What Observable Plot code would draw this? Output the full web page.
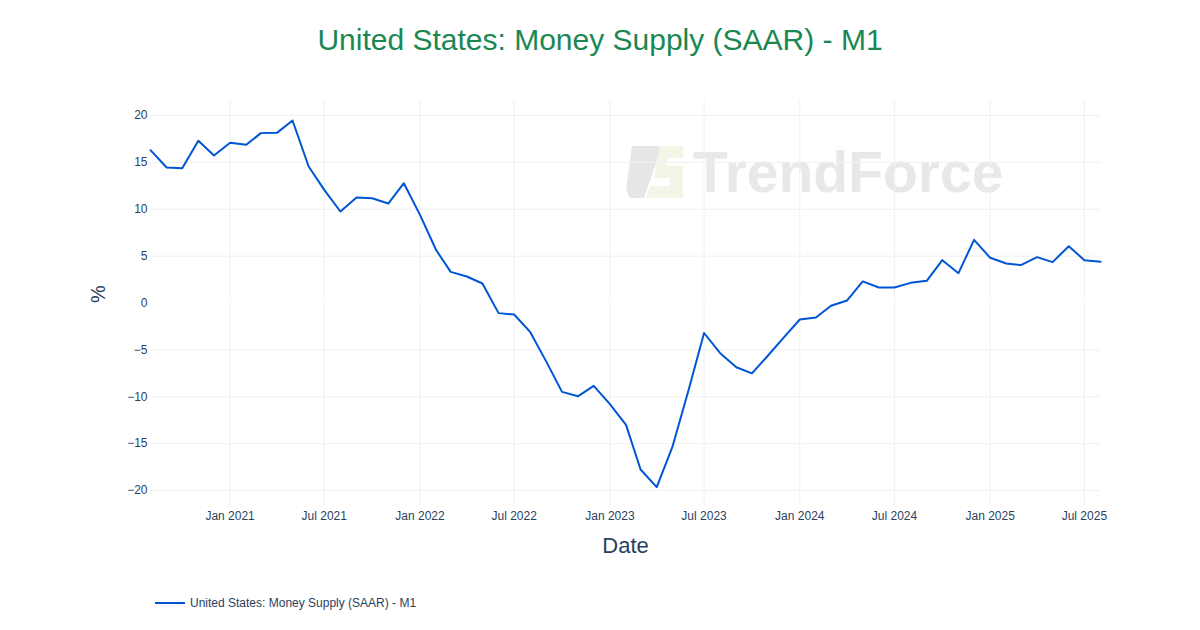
<!DOCTYPE html>
<html>
<head>
<meta charset="utf-8">
<script src="https://cdn.jsdelivr.net/npm/d3@7"></script>
<script src="https://cdn.jsdelivr.net/npm/@observablehq/plot@0.6"></script>
<style>
  html, body { margin: 0; padding: 0; background: #fff; }
  #wrap { position: relative; width: 1200px; height: 630px; overflow: hidden; font-family: "Liberation Sans", Arial, sans-serif; }
  #title { position: absolute; top: 22px; left: 0; width: 1200px; text-align: center; font-size: 30px; line-height: 36px; color: #1b8753; }
  #wm { position: absolute; left: 620px; top: 140px; width: 400px; height: 70px; }
  #chart { position: absolute; left: 0; top: 80px; }
  #chart svg { background: transparent; }
  #legend { position: absolute; left: 155px; top: 596px; font-size: 12px; color: #2a3f5f; display: flex; align-items: center; }
  #legend .sw { width: 30px; height: 2px; background: #0055d4; margin-right: 5px; }
</style>
</head>
<body>
<div id="wrap">
  <div id="wm">
    <svg width="400" height="70" viewBox="0 0 400 70">
      <polygon points="12,6 42,6 24,58 10,58 6,50" fill="#e6e6e6"/>
      <polygon points="40,6 63,6 63,18 48,18 46,26 63,26 63,58 26,58 30,46 50,46 50,38 34,38" fill="#f1f6e6"/>
      <text x="73" y="52" font-family="Liberation Sans, Arial, sans-serif" font-weight="bold" font-size="57" fill="#e8e8e8">TrendForce</text>
    </svg>
  </div>
  <div id="title">United States: Money Supply (SAAR) - M1</div>
  <div id="chart"></div>
  <div id="legend"><div class="sw"></div><span>United States: Money Supply (SAAR) - M1</span></div>
</div>
<script>
const months = [
  "2020-08","2020-09","2020-10","2020-11","2020-12",
  "2021-01","2021-02","2021-03","2021-04","2021-05","2021-06","2021-07","2021-08","2021-09","2021-10","2021-11","2021-12",
  "2022-01","2022-02","2022-03","2022-04","2022-05","2022-06","2022-07","2022-08","2022-09","2022-10","2022-11","2022-12",
  "2023-01","2023-02","2023-03","2023-04","2023-05","2023-06","2023-07","2023-08","2023-09","2023-10","2023-11","2023-12",
  "2024-01","2024-02","2024-03","2024-04","2024-05","2024-06","2024-07","2024-08","2024-09","2024-10","2024-11","2024-12",
  "2025-01","2025-02","2025-03","2025-04","2025-05","2025-06","2025-07","2025-08"
];
const m1Values = [
  16.3, 14.45, 14.38, 17.3, 15.73,
  17.09, 16.87, 18.12, 18.15, 19.47, 14.56, 12.07, 9.76, 11.25, 11.18, 10.61, 12.78,
  9.4, 5.65, 3.32, 2.83, 2.08, -1.08, -1.23, -3.11, -6.28, -9.48, -9.94, -8.84,
  -10.79, -13.0, -17.76, -19.64, -15.38, -9.33, -3.2, -5.35, -6.85, -7.5, -5.6, -3.7,
  -1.76, -1.55, -0.3, 0.27, 2.3, 1.65, 1.65, 2.15, 2.37, 4.57, 3.18, 6.74,
  4.82, 4.21, 4.04, 4.89, 4.36, 6.06, 4.57, 4.39
];
const xTickLabels = ["2021-01","2021-07","2022-01","2022-07","2023-01","2023-07","2024-01","2024-07","2025-01","2025-07"];
const yTicks = [-20, -15, -10, -5, 0, 5, 10, 15, 20];

const data = months.map((m, i) => ({date: new Date(m + "-01T00:00:00Z"), value: m1Values[i]}));
const xTicks = xTickLabels.map(m => new Date(m + "-01T00:00:00Z"));
const fmtY = d => d < 0 ? "\u2212" + Math.abs(d) : String(d);
const fmtX = d3.utcFormat("%b %Y");
const tickColor = "#2a3f5f";

const chart = Plot.plot({
  width: 1200,
  height: 490,
  marginLeft: 150,
  marginRight: 100,
  marginTop: 20,
  marginBottom: 65,
  style: {fontFamily: "Liberation Sans, Arial, sans-serif", background: "transparent", color: tickColor},
  x: {type: "utc", domain: [data[0].date, data[data.length - 1].date]},
  y: {domain: [-21.6, 21.6]},
  marks: [
    Plot.gridX(xTicks, {stroke: "#f0f0f0", strokeOpacity: 1, strokeWidth: 1}),
    Plot.gridY(yTicks, {stroke: "#f0f0f0", strokeOpacity: 1, strokeWidth: 1}),
    Plot.ruleY([0], {stroke: "#ffffff", strokeWidth: 2}),
    Plot.axisX(xTicks, {tickSize: 0, tickPadding: 6, tickFormat: fmtX, label: null, fontSize: 12, fill: tickColor}),
    Plot.axisY(yTicks, {tickSize: 0, tickPadding: 3, tickFormat: fmtY, label: null, fontSize: 12, fill: tickColor}),
    Plot.text(["Date"], {frameAnchor: "bottom", dy: 47, fontSize: 22, fill: tickColor}),
    Plot.text(["%"], {frameAnchor: "left", dx: -52, rotate: -90, fontSize: 20, fill: tickColor}),
    Plot.line(data, {x: "date", y: "value", stroke: "#0055d4", strokeWidth: 2})
  ]
});
document.getElementById("chart").appendChild(chart);
</script>
</body>
</html>
